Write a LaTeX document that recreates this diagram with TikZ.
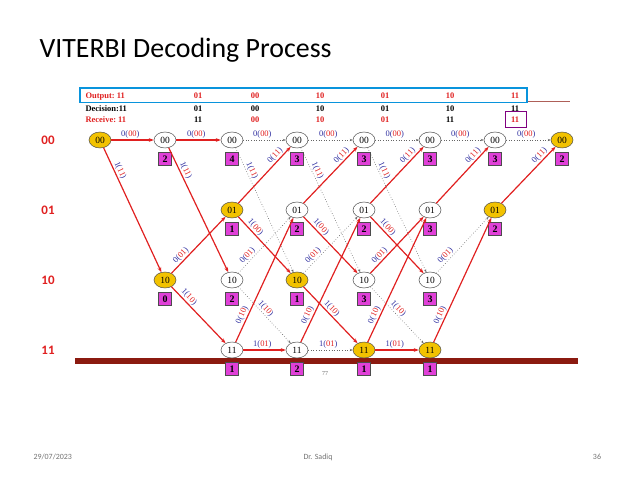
\documentclass[tikz,border=0pt]{standalone}
\usepackage{fontspec}
\setmainfont{Liberation Serif}
\newfontfamily\calfont{Carlito}
\usetikzlibrary{arrows.meta,shapes.geometric}
\definecolor{yel}{HTML}{F2C200}
\definecolor{mag}{HTML}{E040D8}
\definecolor{lblue}{HTML}{3030A0}
\definecolor{rd}{HTML}{E02020}
\definecolor{bar}{HTML}{8B1A10}
\begin{document}
\begin{tikzpicture}[x=1bp,y=-1bp,
  st/.style={ellipse,draw=black!70,line width=0.5pt,minimum width=22bp,minimum height=16bp,inner sep=0pt,font=\fontsize{9.5}{9.5}\selectfont},
  yst/.style={st,fill=yel},
  met/.style={draw=black!70,fill=mag,minimum size=13bp,inner sep=0pt,font=\bfseries\fontsize{10}{10}\selectfont},
  surv/.style={draw=rd,line width=1.2pt,-{Stealth[length=5bp]}},
  disc/.style={draw=black!60,dotted,line width=0.6pt,-{Stealth[length=3bp]}},
  lab/.style={font=\fontsize{8.5}{8.5}\selectfont,inner sep=1pt,sloped,above},
  hd/.style={font=\bfseries\fontsize{8.5}{8.5}\selectfont,anchor=base},
  rowl/.style={font=\calfont\bfseries\fontsize{13}{13}\selectfont,text=rd},
  foot/.style={font=\calfont\fontsize{8}{8}\selectfont,text=black!55}]
\useasboundingbox (0,0) rectangle (638,478);
\node[anchor=west,font=\calfont\fontsize{28}{28}\selectfont] (title) at (36,50) {VITERBI Decoding Process};
% header
\draw[bar!70,line width=0.5pt] (527,101) -- (570,101);
\node[hd,anchor=base west,text=rd] (o0) at (82,99) {Output:\ 11};
\node[hd,anchor=base west] (d0) at (82,111.5) {Decision:11};
\node[hd,anchor=base west,text=rd] (r0) at (82,123) {Receive:\ 11};
\foreach \x/\o/\r/\rc [count=\i] in {198/01/11/black,255/00/00/rd,320/10/10/rd,385/01/01/rd,450/10/11/black,515/11/11/rd}{
  \node[hd,text=rd] (o\i) at (\x,99) {\o};
  \node[hd] (d\i) at (\x,111.5) {\o};
  \node[hd,text=\rc] (r\i) at (\x,123) {\r};
}
\draw[cyan!80!blue,line width=1.6pt] (80,88) rectangle (527,102.5);
\draw[violet,line width=1pt] (505,112) rectangle (526,127);
% row labels
\node[rowl] (l00) at (48,140) {00};
\node[rowl] (l01) at (48,210) {01};
\node[rowl] (l10) at (48,280) {10};
\node[rowl] (l11) at (48,350) {11};
% bar
\fill[bar] (75,358) rectangle (578,364);
\node[font=\fontsize{6}{6}\selectfont,text=black!60] (sev) at (325,374) {77};
% nodes
\foreach \c/\x in {0/100,1/165,2/232,3/297,4/364,5/430,6/495,7/562}{
  \expandafter\xdef\csname cx\c\endcsname{\x}}
\foreach \c/\s/\y/\m/\f in {0/00/140//y,
  1/00/140/2/n,1/10/280/0/y,
  2/00/140/4/n,2/01/210/1/y,2/10/280/2/n,2/11/350/1/n,
  3/00/140/3/n,3/01/210/2/n,3/10/280/1/y,3/11/350/2/n,
  4/00/140/3/n,4/01/210/2/n,4/10/280/3/n,4/11/350/1/y,
  5/00/140/3/n,5/01/210/3/n,5/10/280/3/n,5/11/350/1/y,
  6/00/140/3/n,6/01/210/2/y,
  7/00/140/2/y}{
  \edef\px{\csname cx\c\endcsname}
  \if\f y\node[yst] (n\c s\s) at (\px,\y) {\s};\else\node[st,fill=white] (n\c s\s) at (\px,\y) {\s};\fi
  \if\relax\detokenize\expandafter{\m}\relax\else\node[met] (m\c s\s) at ([yshift=-19bp]n\c s\s.center) {\m};\fi
}
\newcommand\lb[2]{\textcolor{lblue}{#1(}\textcolor{rd}{#2}\textcolor{lblue}{)}}
\newcommand\edg[6]{% from col, from st, to st, style, label, pos
  \pgfmathtruncatemacro\nx{#1+1}%
  \draw[#4] (n#1s#2) -- node[lab,pos=#6] {#5} (n\nx s#3);}
\foreach \c/\a/\b/\t/\l/\o/\p in {
 0/00/00/surv/0/00/0.45, 0/00/10/surv/1/11/0.2,
 1/00/00/surv/0/00/0.45, 1/00/10/surv/1/11/0.2, 1/10/01/surv/0/01/0.25, 1/10/11/surv/1/10/0.25,
 2/00/00/disc/0/00/0.45, 2/00/10/disc/1/11/0.2, 2/01/00/surv/0/11/0.78, 2/01/10/surv/1/00/0.25, 2/10/01/disc/0/01/0.25, 2/10/11/disc/1/10/0.45, 2/11/01/surv/0/10/0.2, 2/11/11/surv/1/01/0.45,
 3/00/00/disc/0/00/0.45, 3/00/10/disc/1/11/0.2, 3/01/00/surv/0/11/0.78, 3/01/10/surv/1/00/0.25, 3/10/01/disc/0/01/0.25, 3/10/11/surv/1/10/0.45, 3/11/01/surv/0/10/0.2, 3/11/11/disc/1/01/0.45,
 4/00/00/disc/0/00/0.45, 4/00/10/disc/1/11/0.2, 4/01/00/surv/0/11/0.78, 4/01/10/surv/1/00/0.25, 4/10/01/surv/0/01/0.25, 4/10/11/disc/1/10/0.45, 4/11/01/surv/0/10/0.2, 4/11/11/surv/1/01/0.45,
 5/00/00/disc/0/00/0.45, 5/01/00/surv/0/11/0.78, 5/10/01/disc/0/01/0.25, 5/11/01/surv/0/10/0.2,
 6/00/00/disc/0/00/0.45, 6/01/00/surv/0/11/0.78}{
 \edg{\c}{\a}{\b}{\t}{\lb{\l}{\o}}{\p}
}
% footer
\node[foot,anchor=west] (date) at (30,457) {29/07/2023};
\node[foot] (auth) at (318,457) {Dr. Sadiq};
\node[foot] (pg) at (597,457) {36};
\end{tikzpicture}
\end{document}
